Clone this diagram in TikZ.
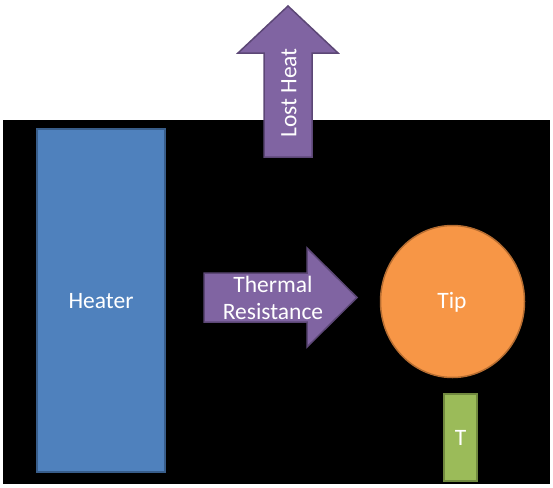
\documentclass[tikz,border=0pt]{standalone}
\usepackage[table]{xcolor}
\usepackage{tikz}
\usetikzlibrary{backgrounds,calc}
\usepackage{fontspec}
\setmainfont{Carlito}
\definecolor{heaterblue}{HTML}{4F81BD}
\definecolor{heaterline}{HTML}{385D8A}
\definecolor{arrowpurple}{HTML}{8064A2}
\definecolor{arrowline}{HTML}{5C4776}
\definecolor{tiporange}{HTML}{F79646}
\definecolor{tipline}{HTML}{B66D31}
\definecolor{sensgreen}{HTML}{9BBB59}
\definecolor{sensline}{HTML}{71893F}
\tikzset{
  lbl/.style={text=white,font=\fontsize{23.5}{27}\selectfont,align=center,inner sep=0pt},
  fatarrow/.style={fill=arrowpurple,draw=arrowline,line width=1.5pt,line join=miter},
}

\begin{document}
\begin{tikzpicture}[x=1pt,y=-1pt]
\useasboundingbox (0,0) rectangle (553,487);
\fill[black] (3,120) rectangle (550,484);
% heater block
\draw[fill=heaterblue,draw=heaterline,line width=1.5pt] (37,129) rectangle (165,472);
\node[lbl] (heater) at (101,301) {Heater};
% lost heat arrow
\draw[fatarrow] (264,157) -- (264,53) -- (238,53) -- (288,6) -- (338,53) -- (312,53) -- (312,157) -- cycle;
\node[lbl,rotate=90] (lost) at (289,93) {Lost Heat};
% thermal resistance arrow
\draw[fatarrow] (204,273) -- (307,273) -- (307,248) -- (357,297.5) -- (307,347) -- (307,322) -- (204,322) -- cycle;
\node[lbl] (resist) at (273,298) {Thermal\\Resistance};
% tip and sensor
\draw[fill=tiporange,draw=tipline,line width=1.5pt] (452.5,301.5) ellipse [x radius=72,y radius=76];
\node[lbl] (tip) at (452,302) {Tip};
\draw[fill=sensgreen,draw=sensline,line width=1.5pt] (444,394) rectangle (477,481);
\node[lbl] (sensor) at (460.5,438) {T};
\end{tikzpicture}
\end{document}
